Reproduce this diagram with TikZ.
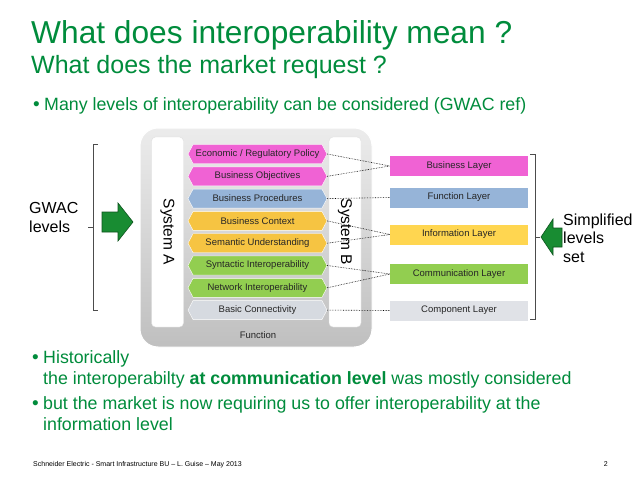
\documentclass[tikz,border=0pt]{standalone}
\usepackage{fontspec}
\setmainfont{Liberation Sans}
\usepackage{tikz}
\usetikzlibrary{positioning,shapes.symbols}
\definecolor{schgreen}{RGB}{0,140,60}
\definecolor{pinklevel}{RGB}{240,98,212}
\definecolor{bluelevel}{RGB}{150,180,216}
\definecolor{yellowlevel}{RGB}{246,196,66}
\definecolor{greenlevel}{RGB}{146,206,80}
\definecolor{greylevel}{RGB}{214,218,224}
\definecolor{infolayer}{RGB}{255,214,80}
\definecolor{complayer}{RGB}{224,226,231}
\definecolor{arrowgreen}{RGB}{24,140,50}

\begin{document}
\begin{tikzpicture}[x=1pt, y=-1pt, node distance=2.9pt,
slidetext/.style={anchor=base west, inner sep=0pt, text=schgreen},
gwacbox/.style={signal, signal to=west and east, signal pointer angle=124,
  draw=white, line width=0.4pt, minimum width=139pt, minimum height=19pt,
  inner sep=0pt, font=\fontsize{9.5}{11}\selectfont, text=black!85},
setbox/.style={rectangle, minimum width=138pt, minimum height=20pt,
  inner sep=0pt, font=\fontsize{9.5}{11}\selectfont, text=black!85},
sysbox/.style={rectangle, rounded corners=4pt, fill=white, draw=gray!25,
  minimum width=190pt, minimum height=32pt, font=\fontsize{15.5}{18}\selectfont},
casing/.style={rectangle, rounded corners=18pt, draw=white, line width=1pt,
  top color=gray!15, bottom color=gray!50, minimum width=232pt, minimum height=219pt},
mapping/.style={densely dotted, line width=0.6pt},
bracket/.style={line width=0.8pt, black!70},
bigarrow/.style={fill=arrowgreen, draw=arrowgreen!60!black, line width=0.6pt}
]
\useasboundingbox[fill=white] (0,0) rectangle (638,479);

%% headings
\node[slidetext, font=\fontsize{31.7}{38}\selectfont] (title) at (31,43) {What does interoperability mean ?};
\node[slidetext, font=\fontsize{25}{30}\selectfont] (subtitle) at (31,73) {What does the market request ?};
\node[slidetext, font=\fontsize{19}{22}\selectfont] (dot1) at (33,110) {\textbullet};
\node[slidetext, font=\fontsize{17.8}{21}\selectfont] (many) at (44,110) {Many levels of interoperability can be considered (GWAC ref)};

%% GWAC stack
\node[casing] (casing) at (256,237.5) {};
\node[sysbox, rotate=-90] (sysa) at (167.5,232) {System A};
\node[sysbox, rotate=-90] (sysb) at (345,232) {System B};
\node[font=\fontsize{9.5}{11}\selectfont, text=black!85] (function) at (258,335) {Function};

\node[gwacbox, fill=pinklevel] (econ) at (257.5,154) {Economic / Regulatory Policy};
\node[gwacbox, fill=pinklevel, below=of econ] (obj) {Business Objectives};
\node[gwacbox, fill=bluelevel, below=of obj] (proc) {Business Procedures};
\node[gwacbox, fill=yellowlevel, below=of proc] (ctx) {Business Context};
\node[gwacbox, fill=yellowlevel, below=of ctx] (sem) {Semantic Understanding};
\node[gwacbox, fill=greenlevel, below=of sem] (syn) {Syntactic Interoperability};
\node[gwacbox, fill=greenlevel, below=of syn] (net) {Network Interoperability};
\node[gwacbox, fill=greylevel, below=of net] (basic) {Basic Connectivity};

%% simplified set
\node[setbox, fill=pinklevel] (busl) at (459,166) {Business Layer};
\node[setbox, fill=bluelevel] (funl) at (459,197.5) {Function Layer};
\node[setbox, fill=infolayer] (infl) at (459,234.5) {Information Layer};
\node[setbox, fill=greenlevel] (coml) at (459,274) {Communication Layer};
\node[setbox, fill=complayer] (cmpl) at (459,310.5) {Component Layer};

\draw[mapping] (econ.east) -- (busl.west);
\draw[mapping] (obj.east) -- (busl.west);
\draw[mapping] (proc.east) -- (funl.west);
\draw[mapping] (ctx.east) -- (infl.west);
\draw[mapping] (sem.east) -- (infl.west);
\draw[mapping] (syn.east) -- (coml.west);
\draw[mapping] (net.east) -- (coml.west);
\draw[mapping] (basic.east) -- (cmpl.west);

%% brackets and arrows
\draw[bracket] (98,144) -- (93,144) -- (93,310) -- (98,310);
\draw[bracket] (93,227) -- (88,227);
\node[anchor=west, inner sep=0pt, align=left, font=\fontsize{16}{19}\selectfont] (gwac) at (29,217.5) {GWAC\\levels};
\draw[bigarrow] (102,212) -- (118,212) -- (118,203) -- (133,222) -- (118,241) -- (118,232) -- (102,232) -- cycle;

\draw[bracket] (530,154) -- (535,154) -- (535,319) -- (530,319);
\draw[bracket] (535,237) -- (540,237);
\draw[bigarrow] (562,228) -- (553,228) -- (553,219) -- (541,237) -- (553,255) -- (553,247) -- (562,247) -- cycle;
\node[anchor=west, inner sep=0pt, align=left, font=\fontsize{16}{18.5}\selectfont] (simple) at (563,238) {Simplified\\levels\\set};

%% bottom bullets
\node[slidetext, font=\fontsize{19}{22}\selectfont] (dot2) at (32,363) {\textbullet};
\node[slidetext, font=\fontsize{17.8}{21}\selectfont] (hist) at (43,363) {Historically};
\node[slidetext, font=\fontsize{17.8}{21}\selectfont] (comm) at (43,384) {the interoperabilty \textbf{at communication level} was mostly considered};
\node[slidetext, font=\fontsize{19}{22}\selectfont] (dot3) at (32,409) {\textbullet};
\node[slidetext, font=\fontsize{17.8}{21}\selectfont] (market) at (43,409) {but the market is now requiring us to offer interoperability at the};
\node[slidetext, font=\fontsize{17.8}{21}\selectfont] (info) at (43,430) {information level};

%% footer
\node[anchor=base west, inner sep=0pt, font=\fontsize{7}{8}\selectfont] (footer) at (33,466) {Schneider Electric - Smart Infrastructure BU -- L. Guise -- May 2013};
\node[anchor=base east, inner sep=0pt, font=\fontsize{7}{8}\selectfont] (page) at (608,466) {2};
\end{tikzpicture}
\end{document}
